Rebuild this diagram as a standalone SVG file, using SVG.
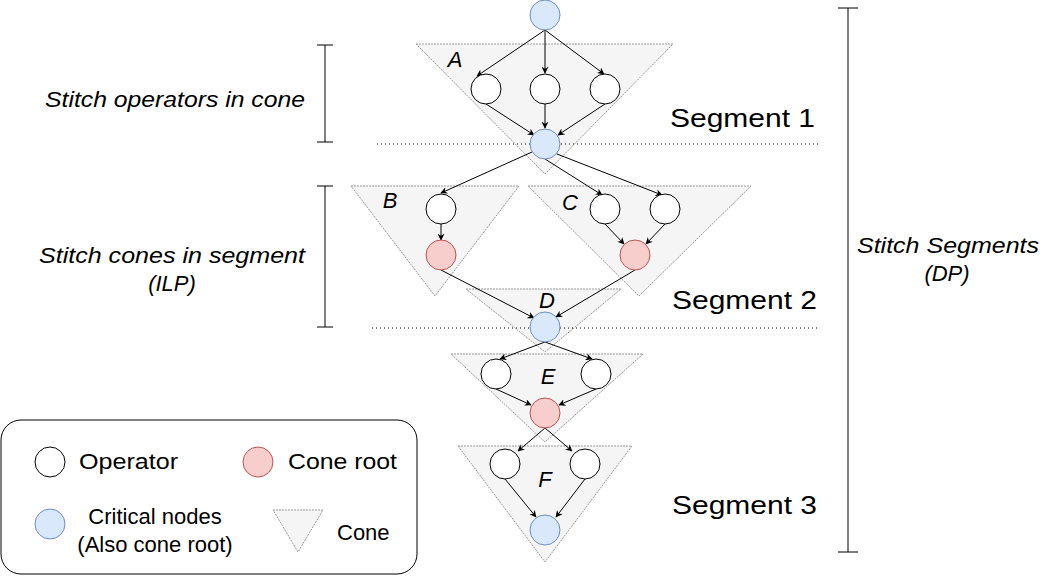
<svg xmlns="http://www.w3.org/2000/svg" width="1046" height="577" viewBox="0 0 1046 577">
<defs>
<marker id="ar" viewBox="0 0 10 10" refX="9" refY="5" markerWidth="7" markerHeight="7" orient="auto"><path d="M0,0 L10,5 L0,10 L3,5 Z" fill="#000"/></marker>
<style>
text{font-family:"Liberation Sans",Arial,sans-serif;fill:#000}
.cone{fill:#f5f5f5;stroke:#999;stroke-width:1;stroke-dasharray:2,1}
.op{fill:#fff;stroke:#000;stroke-width:1}
.cr{fill:#f8cecc;stroke:#b85450;stroke-width:1}
.crit{fill:#dae8fc;stroke:#6c8ebf;stroke-width:1}
.e{stroke:#000;stroke-width:1;fill:none;marker-end:url(#ar)}
.dot{stroke:#000;stroke-width:1;stroke-dasharray:1,3}
.br{stroke:#000;stroke-width:1;fill:none}
.it{font-style:italic;font-size:22px}
.lbl{font-style:italic;font-size:22px}
.seg{font-size:26px}
.lg{font-size:22px}
</style>
</defs>
<g id="cones">
<polygon id="coneA" class="cone" points="416,44 673,44 545,174"/>
<polygon id="coneB" class="cone" points="351,186 519,186 435,296"/>
<polygon id="coneC" class="cone" points="528,186 751,186 639,296"/>
<polygon id="coneD" class="cone" points="466,289 621,289 545,352"/>
<polygon id="coneE" class="cone" points="451,354 643,354 545,442"/>
<polygon id="coneF" class="cone" points="458,446 632,446 545,562"/>
</g>
<line class="dot" x1="377" y1="144" x2="820" y2="144"/>
<line class="dot" x1="372" y1="328" x2="820" y2="328"/>
<g id="connectors">
<line class="e" x1="545" y1="30" x2="477" y2="76"/>
<line class="e" x1="545" y1="30" x2="545" y2="73"/>
<line class="e" x1="545" y1="30" x2="604" y2="74"/>
<line class="e" x1="486" y1="104" x2="534" y2="135"/>
<line class="e" x1="545" y1="104" x2="545" y2="128"/>
<line class="e" x1="605" y1="104" x2="558" y2="135"/>
<line class="e" x1="532" y1="152" x2="441" y2="193"/>
<line class="e" x1="545" y1="159" x2="602" y2="195"/>
<line class="e" x1="557" y1="154" x2="662" y2="195"/>
<line class="e" x1="441" y1="224" x2="441" y2="240"/>
<line class="e" x1="605" y1="224" x2="624" y2="244"/>
<line class="e" x1="665" y1="224" x2="646" y2="244"/>
<line class="e" x1="441" y1="270" x2="534" y2="318"/>
<line class="e" x1="635" y1="270" x2="556" y2="317"/>
<line class="e" x1="545" y1="342" x2="500" y2="359"/>
<line class="e" x1="545" y1="342" x2="592" y2="359"/>
<line class="e" x1="496" y1="389" x2="531" y2="405"/>
<line class="e" x1="596" y1="389" x2="559" y2="405"/>
<line class="e" x1="545" y1="428" x2="518" y2="451"/>
<line class="e" x1="545" y1="428" x2="572" y2="451"/>
<line class="e" x1="505" y1="479" x2="536" y2="517"/>
<line class="e" x1="585" y1="479" x2="556" y2="517"/>
</g>
<g id="n-top"><circle class="crit" cx="545" cy="15" r="15"/></g>
<g id="n-a1"><circle class="op" cx="486" cy="89" r="15"/></g>
<g id="n-a2"><circle class="op" cx="545" cy="89" r="15"/></g>
<g id="n-a3"><circle class="op" cx="605" cy="89" r="15"/></g>
<g id="n-c1"><circle class="crit" cx="545" cy="144" r="15"/></g>
<g id="n-b1"><circle class="op" cx="441" cy="209" r="15"/></g>
<g id="n-br"><circle class="cr" cx="441" cy="255" r="15"/></g>
<g id="n-cc1"><circle class="op" cx="605" cy="209" r="15"/></g>
<g id="n-cc2"><circle class="op" cx="665" cy="209" r="15"/></g>
<g id="n-cr"><circle class="cr" cx="635" cy="255" r="15"/></g>
<g id="n-c2"><circle class="crit" cx="545" cy="327" r="15"/></g>
<g id="n-e1"><circle class="op" cx="496" cy="374" r="15"/></g>
<g id="n-e2"><circle class="op" cx="596" cy="374" r="15"/></g>
<g id="n-er"><circle class="cr" cx="545" cy="413" r="15"/></g>
<g id="n-f1"><circle class="op" cx="505" cy="464" r="15"/></g>
<g id="n-f2"><circle class="op" cx="585" cy="464" r="15"/></g>
<g id="n-c3"><circle class="crit" cx="545" cy="530" r="15"/></g>
<g id="labels">
<text class="lbl" x="455" y="67" text-anchor="middle">A</text>
<text class="lbl" x="390" y="208" text-anchor="middle">B</text>
<text class="lbl" x="570" y="210" text-anchor="middle">C</text>
<text class="lbl" x="547" y="308" text-anchor="middle">D</text>
<text class="lbl" x="548" y="384" text-anchor="middle">E</text>
<text class="lbl" x="545" y="487" text-anchor="middle">F</text>
<text class="seg" x="670" y="127" textLength="145" lengthAdjust="spacingAndGlyphs">Segment 1</text>
<text class="seg" x="672" y="309" textLength="145" lengthAdjust="spacingAndGlyphs">Segment 2</text>
<text class="seg" x="672" y="514" textLength="145" lengthAdjust="spacingAndGlyphs">Segment 3</text>
<text class="it" x="45" y="107" textLength="260" lengthAdjust="spacingAndGlyphs">Stitch operators in cone</text>
<text class="it" x="39" y="263" textLength="266" lengthAdjust="spacingAndGlyphs">Stitch cones in segment</text>
<text class="it" x="172" y="291" text-anchor="middle">(ILP)</text>
<text class="it" x="857" y="253" textLength="182" lengthAdjust="spacingAndGlyphs">Stitch Segments</text>
<text class="it" x="947" y="281" text-anchor="middle">(DP)</text>
</g>
<g id="brackets">
<path class="br" d="M317,45 H333 M325,45 V142 M317,142 H333"/>
<path class="br" d="M317,186 H333 M325,186 V327 M317,327 H333"/>
<path class="br" d="M838,8 H858 M848,8 V552 M838,552 H858"/>
</g>
<g id="legend">
<rect x="1" y="420" width="416" height="154" rx="20" fill="#fff" stroke="#000" stroke-width="1"/>
<circle class="op" cx="50" cy="462" r="15"/>
<text class="lg" x="79" y="469" textLength="99" lengthAdjust="spacingAndGlyphs">Operator</text>
<circle class="cr" cx="258" cy="462" r="15"/>
<text class="lg" x="288" y="469" textLength="109" lengthAdjust="spacingAndGlyphs">Cone root</text>
<circle class="crit" cx="50" cy="524" r="15"/>
<text class="lg" x="155" y="524" text-anchor="middle">Critical nodes</text>
<text class="lg" x="155" y="552" text-anchor="middle">(Also cone root)</text>
<polygon class="cone" points="273,510 323,510 298,552"/>
<text class="lg" x="337" y="540">Cone</text>
</g>
</svg>
